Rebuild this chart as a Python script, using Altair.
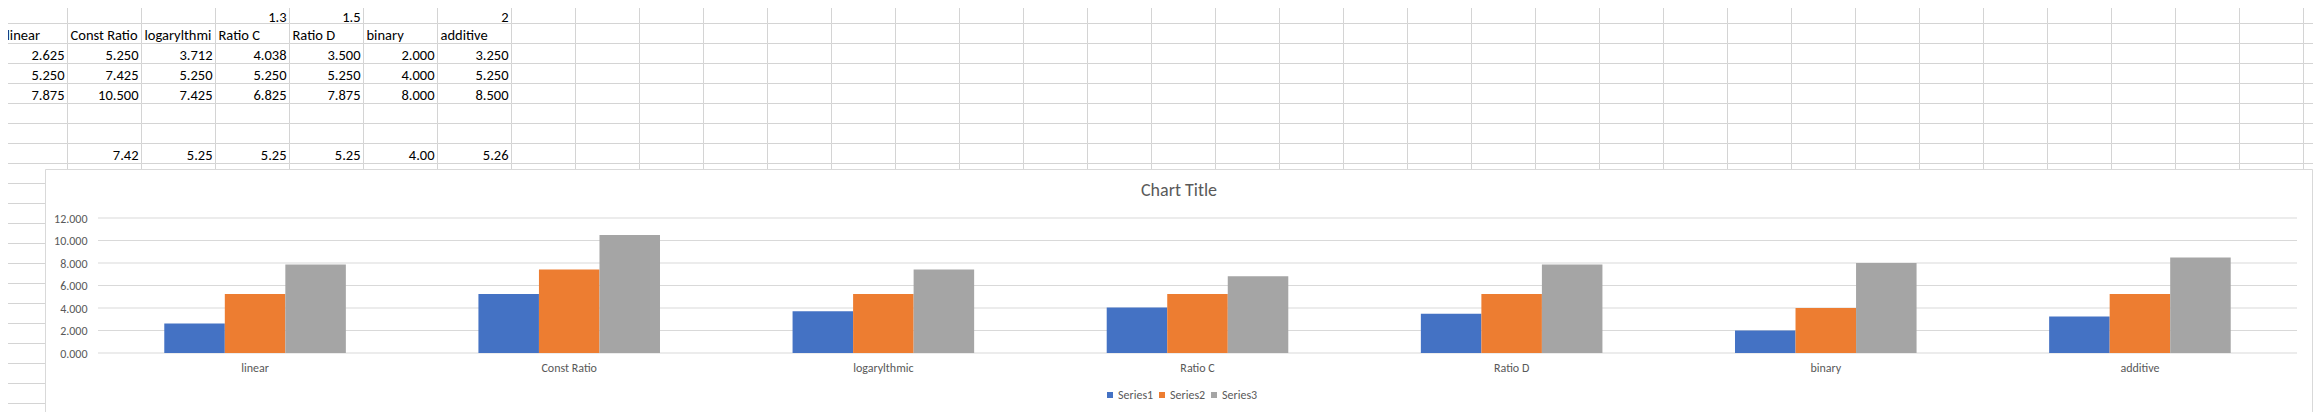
import altair as alt
import pandas as pd

# ---------------- data ----------------
categories = ["linear", "Const Ratio", "logarylthmic", "Ratio C", "Ratio D", "binary", "additive"]
series_names = ["Series1", "Series2", "Series3"]
series1 = [2.625, 5.250, 3.712, 4.038, 3.500, 2.000, 3.250]
series2 = [5.250, 7.425, 5.250, 5.250, 5.250, 4.000, 5.250]
series3 = [7.875, 10.500, 7.425, 6.825, 7.875, 8.000, 8.500]
ratio_row = [None, None, None, 1.3, 1.5, None, 2]
summary_row = [None, 7.42, 5.25, 5.25, 5.25, 4.00, 5.26]
y_ticks = [0, 2, 4, 6, 8, 10, 12]
chart_title = "Chart Title"

# ---------------- styles / layout ----------------
FONT = "Carlito, Calibri, Lato, sans-serif"
TEXT = "#595959"
COLORS = ["#4472C4", "#ED7D31", "#A5A5A5"]
SHEET_GRID = "#d4d4d4"
CHART_LINE = "#d9d9d9"

ORIGIN_X, ORIGIN_Y = 98, 218          # page position of the plot area
PLOT_W, PLOT_H = 2199, 135
SVG_W, SVG_H = 2305, 404
PAD_L, PAD_T = ORIGIN_X - 8, ORIGIN_Y - 8
PAD_R = SVG_W - PAD_L - PLOT_W
PAD_B = SVG_H - PAD_T - PLOT_H


def col_letter(i):
    s = ""
    i += 1
    while i:
        i, r = divmod(i - 1, 26)
        s = chr(65 + r) + s
    return s


sheet_cols = [col_letter(i) for i in range(36)]
sheet_rows = list(range(1, 22))
ROW_TOP, ROW_H = 3.5, 20

# cell contents of the worksheet
cells = []
for j, col in enumerate(sheet_cols[:7]):
    if ratio_row[j] is not None:
        cells.append({"col": col, "row": 1, "text": str(ratio_row[j]), "kind": "top"})
    cells.append({"col": col, "row": 2, "text": categories[j], "kind": "label"})
    for r, ser in zip([3, 4, 5], [series1, series2, series3]):
        cells.append({"col": col, "row": r, "text": f"{ser[j]:.3f}", "kind": "num"})
    if summary_row[j] is not None:
        cells.append({"col": col, "row": 8, "text": f"{summary_row[j]:.2f}", "kind": "num"})
cell_text = pd.DataFrame(cells)


def sheet_group(cols, x0, x1):
    xs = alt.Scale(type="band", domain=cols, range=[x0 - ORIGIN_X, x1 - ORIGIN_X],
                   paddingInner=0, paddingOuter=0)
    ys = alt.Scale(type="band", domain=sheet_rows,
                   range=[ROW_TOP - ORIGIN_Y, ROW_TOP + ROW_H * len(sheet_rows) - ORIGIN_Y],
                   paddingInner=0, paddingOuter=0)
    grid_df = pd.DataFrame([{"col": c, "row": r} for c in cols for r in sheet_rows])
    layers = [
        alt.Chart(grid_df).mark_rect(fill="white", stroke=SHEET_GRID, strokeWidth=1).encode(
            x=alt.X("col:N", scale=xs, axis=None),
            y=alt.Y("row:O", scale=ys, axis=None),
        )
    ]
    txt = cell_text[cell_text["col"].isin(cols)]
    width = (x1 - x0) / len(cols)
    for kind, align, bp, dx, dy in [("num", "right", 1, -3, 2), ("top", "right", 1, -3, 4),
                                    ("label", "left", 0, 3, 2)]:
        sub = txt[txt["kind"] == kind]
        if len(sub):
            layers.append(
                alt.Chart(sub).mark_text(
                    align=align, baseline="middle", dx=dx, dy=dy, font=FONT, fontSize=14.5,
                    color="black", limit=width - 3, ellipsis="\u200b",
                ).encode(
                    x=alt.X("col:N", scale=xs, axis=None, bandPosition=bp),
                    y=alt.Y("row:O", scale=ys, axis=None),
                    text="text:N",
                )
            )
    return alt.layer(*layers)


sheet_a = sheet_group(sheet_cols[:1], 3.5, 67.5)
sheet_bg = sheet_group(sheet_cols[1:7], 67.5, 511.5)
sheet_rest = sheet_group(sheet_cols[7:], 511.5, 511.5 + 64 * len(sheet_cols[7:]))

# chart area frame
box = alt.Chart(pd.DataFrame({"k": [0]})).mark_rect(
    fill="white", stroke=CHART_LINE, strokeWidth=1
).encode(
    x=alt.value(45.5 - ORIGIN_X), x2=alt.value(2312.5 - ORIGIN_X),
    y=alt.value(169.5 - ORIGIN_Y), y2=alt.value(415.5 - ORIGIN_Y),
)

title = alt.Chart(pd.DataFrame({"t": [chart_title]})).mark_text(
    font=FONT, fontSize=18, color=TEXT, align="center", baseline="middle"
).encode(x=alt.value(1179 - ORIGIN_X), y=alt.value(191 - ORIGIN_Y), text="t:N")

# bar chart
bars_df = pd.DataFrame(
    [{"category": c, "series": s, "value": v}
     for s, vals in zip(series_names, [series1, series2, series3])
     for c, v in zip(categories, vals)]
)

y_enc = alt.Y(
    "value:Q",
    scale=alt.Scale(domain=[0, 12], nice=False, zero=True),
    axis=alt.Axis(title=None, values=y_ticks, format=".3f", domain=False, ticks=False,
                  grid=False, labelPadding=11, labelFont=FONT, labelFontSize=12,
                  labelColor=TEXT, zindex=1),
)

gridlines = alt.Chart(pd.DataFrame({"value": y_ticks})).mark_rule(
    color=CHART_LINE, strokeWidth=1
).encode(y=y_enc)

bars = alt.Chart(bars_df).mark_bar().encode(
    x=alt.X("category:N", sort=categories,
            scale=alt.Scale(domain=categories, paddingInner=0.422, paddingOuter=0.211),
            axis=alt.Axis(title=None, domain=False, ticks=False, tickSize=0, labelPadding=9,
                          labelAngle=0, labelFont=FONT, labelFontSize=12, labelColor=TEXT,
                          zindex=1)),
    xOffset=alt.XOffset("series:N", sort=series_names, scale=alt.Scale(domain=series_names)),
    y=y_enc,
    color=alt.Color(
        "series:N",
        scale=alt.Scale(domain=series_names, range=COLORS),
        legend=alt.Legend(title=None, orient="none", legendX=1104 - ORIGIN_X,
                          legendY=389 - ORIGIN_Y, direction="horizontal",
                          symbolType="square", symbolSize=36, symbolStrokeWidth=0,
                          labelFont=FONT, labelFontSize=12, labelColor=TEXT,
                          labelOffset=2, columnPadding=2, padding=0, zindex=1),
    ),
)

plot = alt.layer(gridlines, bars)

chart = alt.layer(sheet_a, sheet_bg, sheet_rest, box, title, plot).resolve_scale(
    x="independent", y="independent"
).properties(
    width=PLOT_W, height=PLOT_H,
    padding={"left": PAD_L, "top": PAD_T, "right": PAD_R, "bottom": PAD_B},
    autosize=alt.AutoSizeParams(type="none"),
    background="white",
).configure_view(strokeWidth=0)

chart.save("out.html", embed_options={"renderer": "svg", "actions": False})
